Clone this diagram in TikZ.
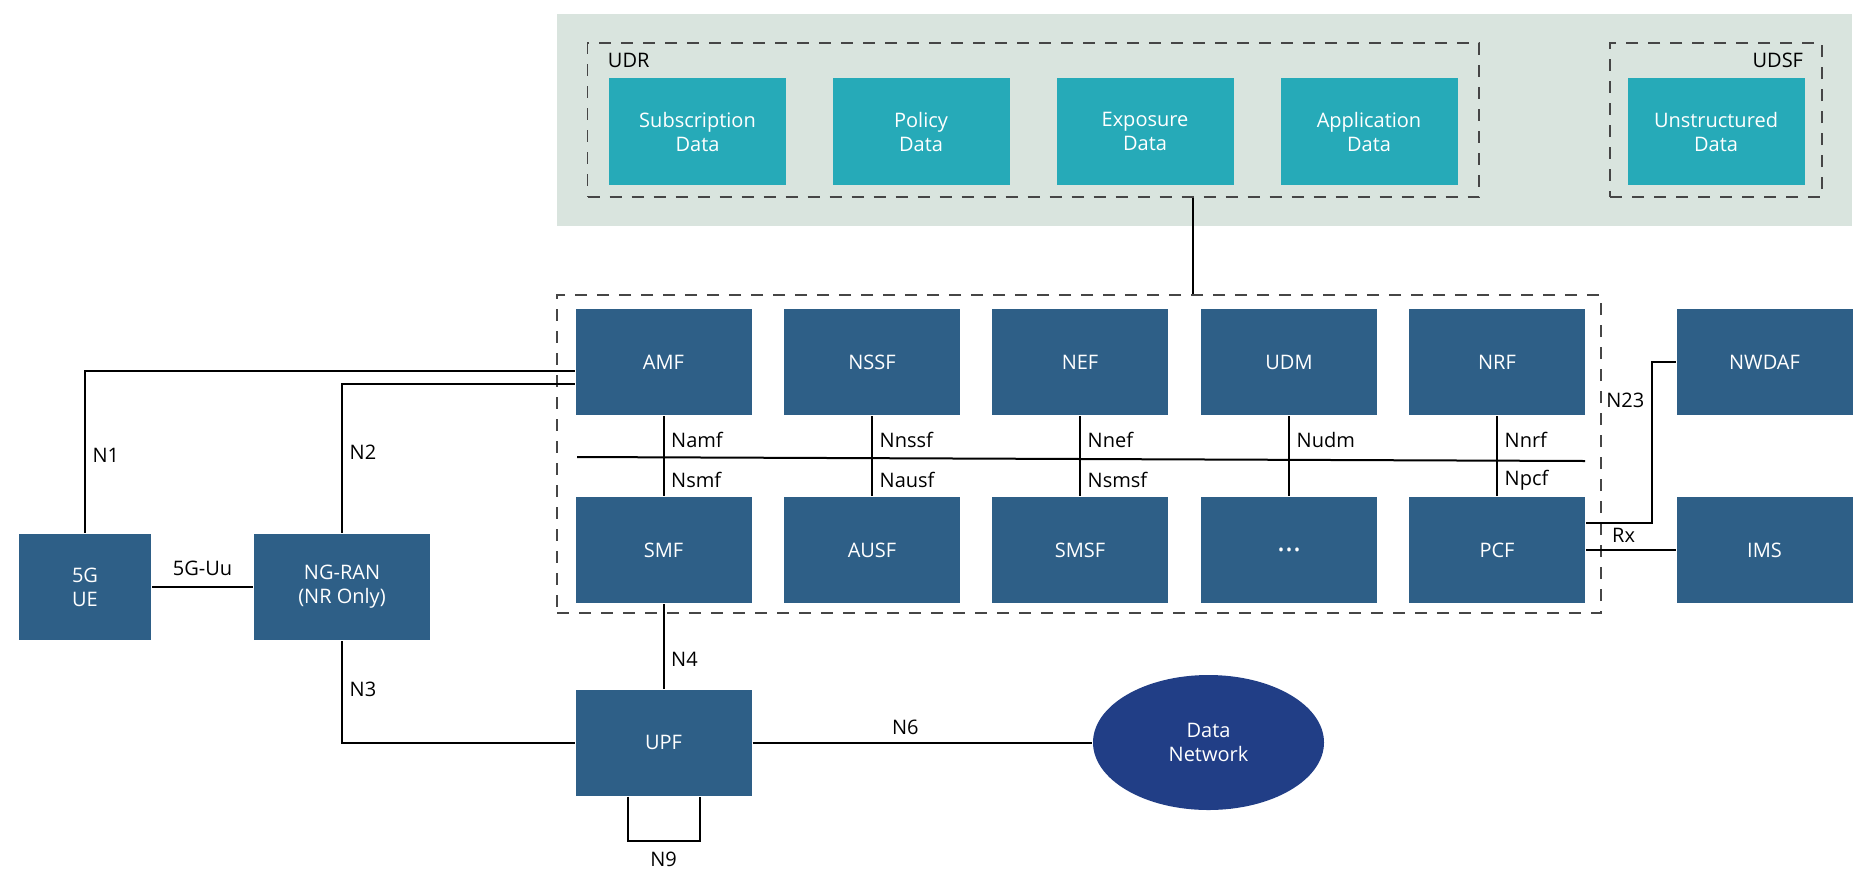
\documentclass[tikz,border=0pt]{standalone}
\usepackage{fontspec}
\setmainfont{Open Sans}
\usetikzlibrary{shapes.geometric}
\definecolor{nfblue}{RGB}{46,95,135}
\definecolor{datateal}{RGB}{38,170,184}
\definecolor{storebg}{RGB}{217,228,222}
\definecolor{dnblue}{RGB}{33,62,134}
\definecolor{dashgray}{RGB}{70,70,70}
\begin{document}
\begin{tikzpicture}[x=0.5pt,y=-0.5pt,line width=1pt,
every node/.style={font=\fontsize{10}{12}\selectfont},
nfblock/.style={rectangle,fill=nfblue,text=white,align=center,minimum width=88pt,minimum height=53pt,inner sep=0pt},
datablock/.style={rectangle,fill=datateal,text=white,align=center,minimum width=88.5pt,minimum height=53.5pt,inner sep=0pt},
dashbox/.style={rectangle,draw=dashgray,line width=0.7pt,dash pattern=on 6pt off 5pt,inner sep=0pt},
dnet/.style={ellipse,fill=dnblue,text=white,align=center,minimum width=115.5pt,minimum height=67.5pt,inner sep=0pt}]

\useasboundingbox (0,0) rectangle (1872,884);

% data storage
\draw (1204.5,120) node[rectangle,fill=storebg,minimum width=647.5pt,minimum height=106pt] (store) {};
\draw (1033.25,120) node[dashbox,minimum width=445.75pt,minimum height=77pt] (UDR) {};
\draw (1716,120) node[dashbox,minimum width=106pt,minimum height=77pt] (UDSF) {};
\node[anchor=west] (udrlabel) at ([xshift=6.75pt,yshift=-9pt]UDR.north west) {UDR};
\node[anchor=east] (udsflabel) at ([xshift=-6pt,yshift=-9pt]UDSF.north east) {UDSF};

\draw (697.5,131.5) node[datablock] (subs) {Subscription\\Data};
\draw (921,131.5) node[datablock] (poli) {Policy\\Data};
\draw (1145,131.5) node[datablock] (expo) {Exposure\\Data};
\draw (1369,131.5) node[datablock] (appl) {Application\\Data};
\draw (1716,131.5) node[datablock] (unst) {Unstructured\\Data};

% core network functions
\draw (1079,454) node[dashbox,minimum width=522pt,minimum height=159pt] (core) {};

\draw (663.5,362) node[nfblock] (AMF) {AMF};
\draw (872,362) node[nfblock] (NSSF) {NSSF};
\draw (1080,362) node[nfblock] (NEF) {NEF};
\draw (1289,362) node[nfblock] (UDM) {UDM};
\draw (1497,362) node[nfblock] (NRF) {NRF};
\draw (663.5,550) node[nfblock] (SMF) {SMF};
\draw (872,550) node[nfblock] (AUSF) {AUSF};
\draw (1080,550) node[nfblock] (SMSF) {SMSF};
\draw (1289,550) node[nfblock] (more) {\raisebox{-2pt}{\fontsize{15}{12}\selectfont ...}};
\draw (1497,550) node[nfblock] (PCF) {PCF};

\draw (1764.5,362) node[nfblock] (NWDAF) {NWDAF};
\draw (1764.5,550) node[nfblock] (IMS) {IMS};

\draw (85,587) node[nfblock,minimum width=66pt] (UE) {5G\\UE};
\draw (342,587) node[nfblock] (RAN) {NG-RAN\\(NR Only)};
\draw (663.5,742.5) node[nfblock] (UPF) {UPF};
\draw (1208.5,742.5) node[dnet] (DN) {Data\\Network};

% service bus
\coordinate (busW) at (577,457);
\coordinate (busE) at (1585,461);
\draw (busW) -- (busE);

\draw (AMF.south) -- (SMF.north) node[pos=0.3,right] {Namf} node[pos=0.8,right] {Nsmf};
\draw (NSSF.south) -- (AUSF.north) node[pos=0.3,right] {Nnssf} node[pos=0.8,right] {Nausf};
\draw (NEF.south) -- (SMSF.north) node[pos=0.3,right] {Nnef} node[pos=0.8,right] {Nsmsf};
\draw (UDM.south) -- (more.north) node[pos=0.3,right] {Nudm};
\draw (NRF.south) -- (PCF.north) node[pos=0.3,right] {Nnrf} node[pos=0.8,right] {Npcf};

% reference points
\draw (UDR.south) ++(160,0) coordinate (udrlink) -- (udrlink |- core.north);
\draw (AMF.186) -| (UE.north) node[pos=0.76,right] {N1};
\draw (AMF.194) -| (RAN.north) node[pos=0.73,right] {N2};
\draw (UE.east) -- (RAN.west) node[midway,above=2pt] {5G-Uu};
\draw (RAN.south) |- (UPF.west) node[pos=0.24,right] {N3};
\draw (SMF.south) -- (UPF.north) node[pos=0.65,right] {N4};
\draw (UPF.east) -- (DN.west) node[pos=0.45,above] {N6};
\draw ([xshift=-18pt]UPF.south) -- ++(0,44) -| ([xshift=18pt]UPF.south) node[pos=0.25,below=2pt] {N9};
\draw (PCF.17) -- ++(66,0) |- (NWDAF.west) node[pos=0.38,left] {N23};
\draw (PCF.east) -- (IMS.west) node[pos=0.42,above] {Rx};

\end{tikzpicture}
\end{document}
